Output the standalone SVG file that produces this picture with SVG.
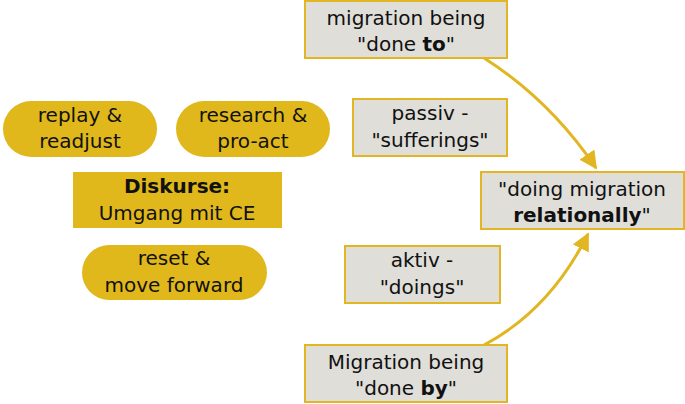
<svg xmlns="http://www.w3.org/2000/svg" width="685" height="404" viewBox="0 0 685 404">
<style>
text{font-family:"DejaVu Sans",Verdana,sans-serif;font-size:20px;fill:#111;text-anchor:middle}
.g{fill:#dfded8;stroke:#e2b622;stroke-width:2}
.y{fill:#e0b81c}
.c{fill:none;stroke:#e2b622;stroke-width:3}
b,.b{font-weight:bold}
</style>
<defs><marker id="a" viewBox="0 0 10 10" refX="9" refY="5" markerWidth="6" markerHeight="6" orient="auto"><path d="M0,0L10,5L0,10z" fill="#e2b622"/></marker></defs>
<rect width="685" height="404" fill="#fff"/>
<g id="connectors">
<path class="c" d="M484,58 Q550,100 596,168" marker-end="url(#a)"/>
<path class="c" d="M484,345 Q550,310 588,234" marker-end="url(#a)"/>
</g>
<g id="n1"><rect class="g" x="305" y="1" width="202" height="57"/><text x="406" y="25">migration being</text><text x="406" y="51">"done <tspan class="b">to</tspan>"</text></g>
<g id="n2"><rect class="g" x="353" y="99" width="154" height="57"/><text x="430" y="120">passiv  -</text><text x="430" y="147">"sufferings"</text></g>
<g id="n3"><rect class="g" x="481" y="172" width="203" height="57"/><text x="582" y="196">"doing migration</text><text x="582" y="222"><tspan class="b">relationally</tspan>"</text></g>
<g id="n4"><rect class="g" x="345" y="246" width="155" height="57"/><text x="422" y="267">aktiv -</text><text x="422" y="294">"doings"</text></g>
<g id="n5"><rect class="g" x="305" y="345" width="202" height="57"/><text x="406" y="369">Migration being</text><text x="406" y="395">"done <tspan class="b">by</tspan>"</text></g>
<g id="p1"><rect class="y" x="3" y="101" width="154" height="56" rx="28"/><text x="80" y="122">replay &amp;</text><text x="80" y="148">readjust</text></g>
<g id="p2"><rect class="y" x="176" y="101" width="154" height="56" rx="28"/><text x="253" y="122">research &amp;</text><text x="253" y="148">pro-act</text></g>
<g id="p3"><rect class="y" x="73" y="172" width="209" height="56"/><text x="177" y="193" class="b">Diskurse:</text><text x="177" y="220">Umgang mit CE</text></g>
<g id="p4"><rect class="y" x="82" y="245" width="185" height="55" rx="27.5"/><text x="174" y="265">reset &amp;</text><text x="174" y="292">move forward</text></g>
</svg>
